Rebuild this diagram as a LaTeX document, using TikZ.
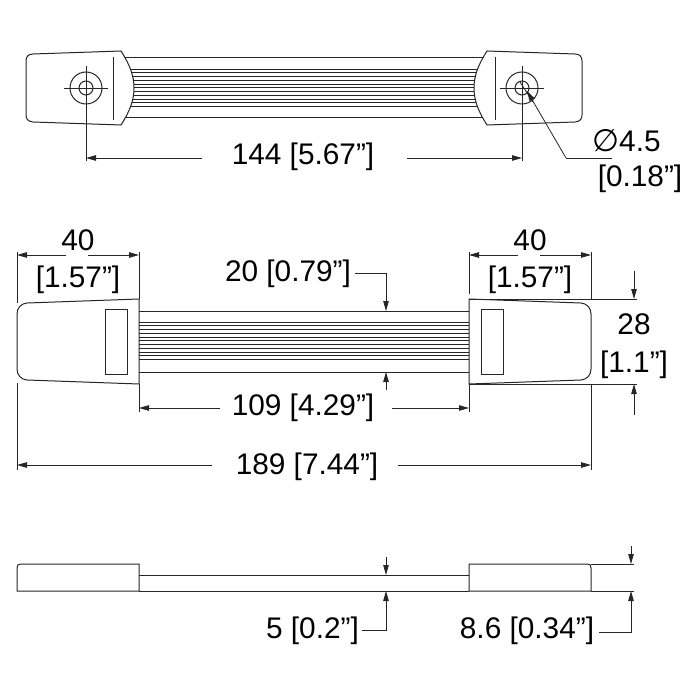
\documentclass[tikz,border=0pt]{standalone}
\usepackage{fontspec}
\setmainfont{Liberation Sans}
\newfontfamily\symfont{DejaVu Sans}
\usetikzlibrary{arrows.meta}
\tikzset{
  part/.style={line width=1pt,draw=black!85},
  thin part/.style={line width=0.85pt,draw=black!85},
  dim/.style={line width=0.8pt,draw=black!85},
  dimarrow/.style={dim,-{Triangle[length=10pt,width=5.5pt]}},
  lab/.style={font=\fontsize{29.8}{32}\selectfont,inner sep=0pt,text=black}
}
\newcommand{\ribs}[3]{% x1, x2, y offset
  \foreach \r in {69,72.5,76.5,80,84.3,87.3,91.7,95,99,102.3,106.7}
    \draw[thin part] (#1,\r+#3) -- (#2,\r+#3);
}
\begin{document}
\begin{tikzpicture}[x=1pt,y=-1pt]
\useasboundingbox (0,0) rectangle (700,700);
% ---- top view
\draw[part] (125,58) -- (483,58);
\draw[part] (125,118) -- (483,118);
\ribs{125}{483}{0}
\draw[part,fill=white] (121,51) -- (33,54) .. controls (28,54) and (26,57) .. (26,61)
  -- (26,115) .. controls (26,119) and (28,121.5) .. (33,122) -- (121,125)
  .. controls (130,111) and (134,100) .. (134,88) .. controls (134,76) and (130,65) .. (121,51) -- cycle;
\draw[part,fill=white] (487,51) -- (575,54) .. controls (580,54) and (582,57) .. (582,61)
  -- (582,115) .. controls (582,119) and (580,121.5) .. (575,122) -- (487,125)
  .. controls (478,111) and (474,100) .. (474,88) .. controls (474,76) and (478,65) .. (487,51) -- cycle;
\draw[part] (113,57) -- (113,120);
\draw[part] (495,57) -- (495,120);
\foreach \n/\cx in {a/86,b/522}{
  \coordinate (c\n) at (\cx,88);
  \draw[part] (c\n) circle[radius=16];
  \draw[part] (c\n) circle[radius=7];
  \draw[thin part] (\cx-22,88) -- (\cx+22,88);
  \draw[dim] (\cx,66) -- (\cx,161);
}
\node[lab] (t144) at (303,156.5) {144 [5.67”]};
\coordinate (d144l) at (202,158);
\coordinate (d144r) at (407,158);
\draw[dimarrow] (d144l) -- (86,158);
\draw[dimarrow] (d144r) -- (522,158);
% diameter leader
\coordinate (hole) at (533,102);
\coordinate (lk) at (566,158);
\draw[dim] (520,82) -- (hole);
\draw[dimarrow] (lk) -- (527,91);
\draw[dim] (lk) -- (612,158);
\node[lab,anchor=west] (tphi) at (592,141) {{\symfont\fontsize{31}{31}\selectfont ∅}4.5};
\node[lab] (tin) at (640,179) {[0.18”]};
% ---- middle view
\draw[part] (139,311) -- (469,311);
\draw[part] (139,372) -- (469,372);
\ribs{139}{469}{253}
\draw[part] (139,299) -- (27,303) .. controls (21,303.5) and (17,308) .. (17,314)
  -- (17,369) .. controls (17,375) and (21,379.5) .. (27,380) -- (139,384) -- cycle;
\draw[part] (469,299) -- (581,303) .. controls (587,303.5) and (591,308) .. (591,314)
  -- (591,369) .. controls (591,375) and (587,379.5) .. (581,380) -- (469,384) -- cycle;
\draw[part] (105,309) rectangle (127,374);
\draw[part] (481,309) rectangle (503,374);
% extension lines
\draw[dim] (17,252) -- (17,303);
\draw[dim] (139,252) -- (139,299);
\draw[dim] (469,252) -- (469,294);
\draw[dim] (591,252) -- (591,299);
\draw[dim] (17,383) -- (17,470);
\draw[dim] (139,384) -- (139,412);
\draw[dim] (469,384) -- (469,412);
\draw[dim] (591,384) -- (591,470);
% 40 left
\node[lab] (fl) at (78,240) {40};
\node[lab] (fli) at (78,279.5) {[1.57”]};
\draw[dimarrow] (66,255) -- (17,255);
\draw[dimarrow] (88,255) -- (139,255);
% 40 right
\node[lab] (fr) at (530,240) {40};
\node[lab] (fri) at (530,279.5) {[1.57”]};
\draw[dimarrow] (518,255) -- (469,255);
\draw[dimarrow] (540,255) -- (591,255);
% 20
\node[lab] (t20) at (288,273.5) {20 [0.79”]};
\draw[dimarrow] (355,273) -- (386,273) -- (386,311);
\draw[dimarrow] (386,390) -- (386,372);
% 28
\draw[dim] (469,299) -- (637,299);
\draw[dim] (469,384) -- (637,384);
\draw[dimarrow] (634,271) -- (634,299);
\draw[dimarrow] (634,415) -- (634,384);
\node[lab] (t28) at (634,324) {28};
\node[lab] (t28i) at (634,364.5) {[1.1”]};
% 109
\node[lab] (t109) at (303,407.5) {109 [4.29”]};
\draw[dimarrow] (220,408) -- (139,408);
\draw[dimarrow] (392,408) -- (469,408);
% 189
\node[lab] (t189) at (307,466.5) {189 [7.44”]};
\draw[dimarrow] (212,465) -- (17,465);
\draw[dimarrow] (398,465) -- (591,465);
% ---- bottom view
\draw[part] (17,591) -- (17,568) .. controls (17,565) and (18,564) .. (21,564) -- (139,564) -- (139,591) -- cycle;
\draw[part] (469,591) -- (469,564) -- (587,564) .. controls (590,564) and (591,565) .. (591,568) -- (591,591) -- cycle;
\draw[part] (139,575) -- (469,575);
\draw[part] (139,591) -- (469,591);
\draw[dim] (591,564) -- (634,564);
\draw[dim] (591,591) -- (634,591);
\draw[dimarrow] (631,546) -- (631,564);
\draw[dimarrow] (599,632) -- (631,632) -- (631,591);
\draw[dimarrow] (386,557) -- (386,575);
\draw[dimarrow] (362,630) -- (386,630) -- (386,591);
\node[lab] (t5) at (312.5,630.5) {5 [0.2”]};
\node[lab] (t86) at (527,630.5) {8.6 [0.34”]};
\end{tikzpicture}
\end{document}
